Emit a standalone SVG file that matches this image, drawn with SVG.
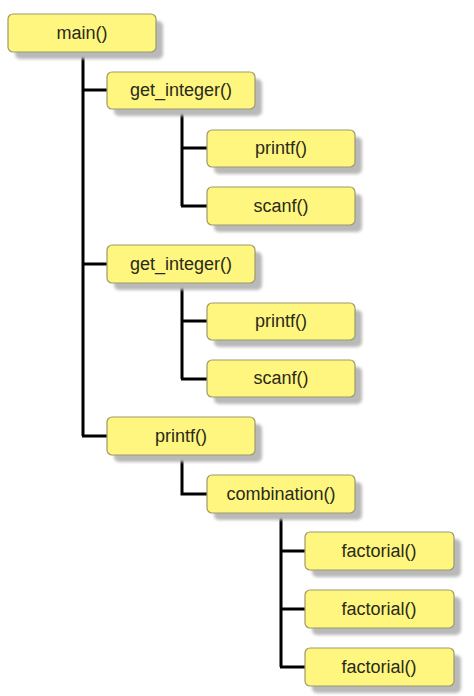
<svg xmlns="http://www.w3.org/2000/svg" width="474" height="696" viewBox="0 0 474 696">
<style>
.box{fill:#fff67f;stroke:#9c9a6a;stroke-width:1.2}
.sh{fill:#b9b9b9;filter:url(#blur)}
.lbl{font-family:"Liberation Sans",Arial,sans-serif;font-size:18px;fill:#2a2a1a;text-anchor:middle}
.ln{stroke:#000;stroke-width:3;fill:none}
</style>
<defs>
<filter id="blur" x="-10%" y="-30%" width="120%" height="160%"><feGaussianBlur stdDeviation="1.5"/></filter>
</defs>
<rect width="474" height="696" fill="#fff"/>
<g id="connectors">
<path class="ln" d="M83 52V436M82 90H107M82 264H107M82 436H107"/>
<path class="ln" d="M182 108V206M181 148H207M181 206H207"/>
<path class="ln" d="M182 283V379M181 321H207M181 379H207"/>
<path class="ln" d="M182 455V494H207"/>
<path class="ln" d="M281 513V667M280 551H305M280 609H305M280 667H305"/>
</g>
<g id="main"><rect class="sh" x="15" y="21" width="148" height="38" rx="5"/><rect class="box" x="8" y="14" width="148" height="38" rx="5"/><text class="lbl" x="82" y="39">main()</text></g>
<g id="get_integer1"><rect class="sh" x="114" y="79" width="148" height="37" rx="5"/><rect class="box" x="107" y="72" width="148" height="37" rx="5"/><text class="lbl" x="181" y="96">get_integer()</text></g>
<g id="printf1"><rect class="sh" x="214" y="137" width="148" height="37" rx="5"/><rect class="box" x="207" y="130" width="148" height="37" rx="5"/><text class="lbl" x="281" y="154">printf()</text></g>
<g id="scanf1"><rect class="sh" x="214" y="194" width="148" height="38" rx="5"/><rect class="box" x="207" y="187" width="148" height="38" rx="5"/><text class="lbl" x="281" y="212">scanf()</text></g>
<g id="get_integer2"><rect class="sh" x="114" y="252" width="148" height="38" rx="5"/><rect class="box" x="107" y="245" width="148" height="38" rx="5"/><text class="lbl" x="181" y="270">get_integer()</text></g>
<g id="printf2"><rect class="sh" x="214" y="310" width="148" height="37" rx="5"/><rect class="box" x="207" y="303" width="148" height="37" rx="5"/><text class="lbl" x="281" y="327">printf()</text></g>
<g id="scanf2"><rect class="sh" x="214" y="367" width="148" height="37" rx="5"/><rect class="box" x="207" y="360" width="148" height="37" rx="5"/><text class="lbl" x="281" y="384">scanf()</text></g>
<g id="printf3"><rect class="sh" x="114" y="424" width="148" height="38" rx="5"/><rect class="box" x="107" y="417" width="148" height="38" rx="5"/><text class="lbl" x="181" y="442">printf()</text></g>
<g id="combination"><rect class="sh" x="214" y="482" width="148" height="38" rx="5"/><rect class="box" x="207" y="475" width="148" height="38" rx="5"/><text class="lbl" x="281" y="500">combination()</text></g>
<g id="factorial1"><rect class="sh" x="312" y="539" width="149" height="38" rx="5"/><rect class="box" x="305" y="532" width="149" height="38" rx="5"/><text class="lbl" x="379" y="557">factorial()</text></g>
<g id="factorial2"><rect class="sh" x="312" y="597" width="149" height="38" rx="5"/><rect class="box" x="305" y="590" width="149" height="38" rx="5"/><text class="lbl" x="379" y="615">factorial()</text></g>
<g id="factorial3"><rect class="sh" x="312" y="655" width="149" height="38" rx="5"/><rect class="box" x="305" y="648" width="149" height="38" rx="5"/><text class="lbl" x="379" y="673">factorial()</text></g>
</svg>
